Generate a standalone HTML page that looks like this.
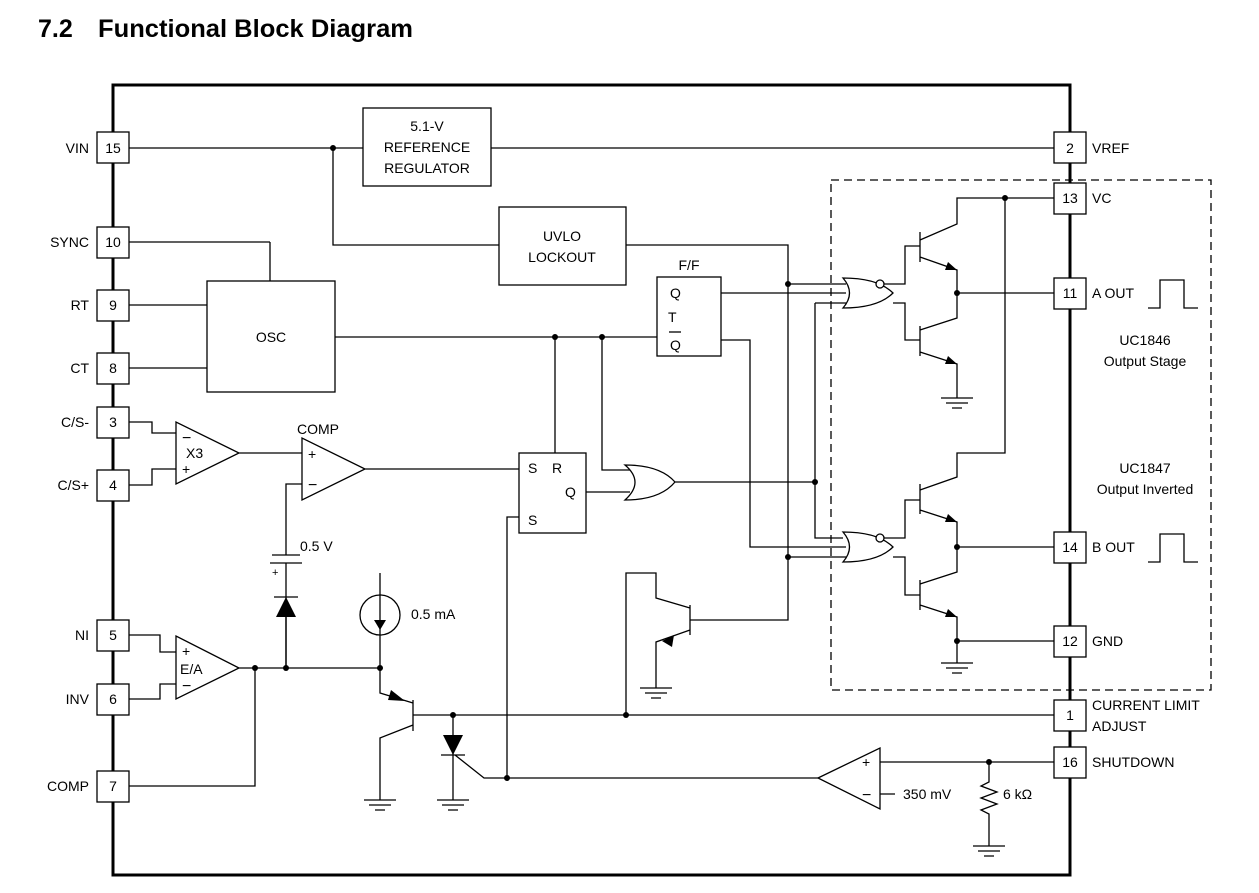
<!DOCTYPE html>
<html><head><meta charset="utf-8"><style>
html,body{margin:0;padding:0;background:#fff;}
svg{display:block;font-family:"Liberation Sans",sans-serif;}
</style></head><body>
<svg width="1259" height="893" viewBox="0 0 1259 893" xmlns="http://www.w3.org/2000/svg">
<text x="38" y="37" font-size="25" font-weight="bold" fill="#000">7.2</text>
<text x="98" y="37" font-size="25" font-weight="bold" fill="#000" textLength="315" lengthAdjust="spacingAndGlyphs">Functional Block Diagram</text>
<g fill="none" stroke="#000" stroke-width="1.3">
<rect x="113" y="85" width="957" height="790" stroke-width="3"/>
<rect x="831" y="180" width="380" height="510" stroke-dasharray="8,5"/>
<rect x="363" y="108" width="128" height="78" fill="#fff"/>
<rect x="499" y="207" width="127" height="78"/>
<rect x="207" y="281" width="128" height="111"/>
<rect x="657" y="277" width="64" height="79"/>
<rect x="519" y="453" width="67" height="80"/>
<path d="M129 148H363M491 148H1054M333 148V245H499M626 245H788V620H690M270 242H129M270 242V281M129 305H207M129 368H207"/>
<path d="M335 337H657M555 337V453M602 337V470H630"/>
<path d="M129 422H152V433H176M129 485H152V469H176M176 422V484L239 453Z M239 453H302M302 438V500L365 469Z M365 469H519M302 484H286V555M272 555H300M270 563H302M286 563V668"/>
<path d="M274 597H298 M286 617V668"/>
<path d="M129 635H160V652H176M129 699H160V684H176M176 636V699L239 668Z M239 668H380M255 668V786H129"/>
<circle cx="380" cy="615" r="20"/>
<path d="M380 573V668V693L413 703M413 700V731M413 725L380 738V800M413 715H1054"/>
<path d="M453 715V755M441 755H465M455 755L484 778H818M453 755V800M507 778V517H519M586 492H630"/>
<path d="M818 778L880 748V809Z M880 762H1054M880 794H895M989 762V782L981 786L997 792L981 798L997 804L981 810L989 814V846"/>
<path d="M625 465Q645 482 625 500Q660 500 675 482Q660 465 625 465Z M675 482H815M815 303V538H843"/>
<path d="M626 715V573H656V598L690 608M690 605V635M690 630L656 642V688"/>
<path d="M721 293H846M721 340H750V547H846M788 284H846M788 557H846M815 303H846"/>
<path d="M843 278Q856 293 843 308Q878 308 893 293Q878 278 843 278Z"/>
<circle cx="880" cy="284" r="4" fill="#fff"/>
<path d="M843 532Q856 547 843 562Q878 562 893 547Q878 532 843 532Z"/>
<circle cx="880" cy="538" r="4" fill="#fff"/>
<path d="M884 284H905V246H920M920 232V262M920 240L957 224V198H1054M920 257L957 270V293V318L920 330M893 303H905V340H920M920 326V356M920 352L957 364V398M957 293H1054M1005 198V453H957V477L920 490"/>
<path d="M884 538H905V500H920M920 484V514M920 510L957 522V547V572L920 584M893 557H905V595H920M920 580V610M920 605L957 617V663M957 547H1054M957 641H1054"/>
<path d="M941 398H973M946 403H968M952 408H962 M941 663H973M946 668H968M952 673H962 M640 688H672M645 693H667M651 698H661 M364 800H396M369 805H391M375 810H385 M437 800H469M442 805H464M448 810H458 M973 846H1005M978 851H1000M984 856H994"/>
<path d="M1148 308H1160V280H1184V308H1198M1148 562H1160V534H1184V562H1198"/>
<g fill="#fff">
<rect x="97" y="132" width="32" height="31"/><rect x="97" y="227" width="32" height="31"/><rect x="97" y="290" width="32" height="31"/><rect x="97" y="353" width="32" height="31"/><rect x="97" y="407" width="32" height="31"/><rect x="97" y="470" width="32" height="31"/><rect x="97" y="620" width="32" height="31"/><rect x="97" y="684" width="32" height="31"/><rect x="97" y="771" width="32" height="31"/>
<rect x="1054" y="132" width="32" height="31"/><rect x="1054" y="183" width="32" height="31"/><rect x="1054" y="278" width="32" height="31"/><rect x="1054" y="532" width="32" height="31"/><rect x="1054" y="626" width="32" height="31"/><rect x="1054" y="700" width="32" height="31"/><rect x="1054" y="747" width="32" height="31"/>
</g>
</g>
<g fill="#000">
<path d="M276 617H296L286 597Z"/>
<path d="M443 735H463L453 755Z"/>
<path d="M374 620H386L380 630Z"/>
<path d="M405 701L391 690L388 700Z"/>
<path d="M662 641L674 635L672 647Z"/>
<path d="M948 262L957 270L945 270Z"/>
<path d="M948 356L957 364L945 364Z"/>
<path d="M948 514L957 522L945 522Z"/>
<path d="M948 609L957 617L945 617Z"/>
<circle cx="333" cy="148" r="3"/><circle cx="788" cy="284" r="3"/><circle cx="788" cy="557" r="3"/><circle cx="555" cy="337" r="3"/><circle cx="602" cy="337" r="3"/><circle cx="815" cy="482" r="3"/><circle cx="255" cy="668" r="3"/><circle cx="286" cy="668" r="3"/><circle cx="380" cy="668" r="3"/><circle cx="453" cy="715" r="3"/><circle cx="626" cy="715" r="3"/><circle cx="507" cy="778" r="3"/><circle cx="989" cy="762" r="3"/><circle cx="1005" cy="198" r="3"/><circle cx="957" cy="293" r="3"/><circle cx="957" cy="547" r="3"/><circle cx="957" cy="641" r="3"/>
</g>
<g font-size="14" fill="#000">
<g text-anchor="middle">
<text x="113" y="153">15</text><text x="113" y="247">10</text><text x="113" y="310">9</text><text x="113" y="373">8</text><text x="113" y="427">3</text><text x="113" y="490">4</text><text x="113" y="640">5</text><text x="113" y="704">6</text><text x="113" y="791">7</text>
<text x="1070" y="153">2</text><text x="1070" y="203">13</text><text x="1070" y="298">11</text><text x="1070" y="552">14</text><text x="1070" y="646">12</text><text x="1070" y="720">1</text><text x="1070" y="767">16</text>
<text x="427" y="131">5.1-V</text><text x="427" y="152">REFERENCE</text><text x="427" y="173">REGULATOR</text>
<text x="562" y="241">UVLO</text><text x="562" y="262">LOCKOUT</text>
<text x="271" y="342">OSC</text><text x="689" y="270">F/F</text>
<text x="1145" y="345">UC1846</text><text x="1145" y="366">Output Stage</text>
<text x="1145" y="473">UC1847</text><text x="1145" y="494">Output Inverted</text>
<text x="318" y="434">COMP</text>
</g>
<g text-anchor="end">
<text x="89" y="153">VIN</text><text x="89" y="247">SYNC</text><text x="89" y="310">RT</text><text x="89" y="373">CT</text><text x="89" y="427">C/S-</text><text x="89" y="490">C/S+</text><text x="89" y="640">NI</text><text x="89" y="704">INV</text><text x="89" y="791">COMP</text>
</g>
<text x="1092" y="153">VREF</text><text x="1092" y="203">VC</text><text x="1092" y="298">A OUT</text><text x="1092" y="552">B OUT</text><text x="1092" y="646">GND</text><text x="1092" y="710">CURRENT LIMIT</text><text x="1092" y="731">ADJUST</text><text x="1092" y="767">SHUTDOWN</text>
<text x="670" y="298">Q</text><text x="668" y="322">T</text><text x="670" y="350">Q</text>
<text x="528" y="473">S</text><text x="552" y="473">R</text><text x="565" y="497">Q</text><text x="528" y="525">S</text>
<text x="186" y="458">X3</text><text x="182" y="443" font-size="16">−</text><text x="182" y="474">+</text>
<text x="308" y="459">+</text><text x="308" y="490" font-size="16">−</text>
<text x="182" y="656">+</text><text x="180" y="674">E/A</text><text x="182" y="691" font-size="16">−</text>
<text x="300" y="551">0.5 V</text><text x="272" y="576" font-size="11">+</text>
<text x="411" y="619">0.5 mA</text>
<text x="862" y="767">+</text><text x="862" y="800" font-size="16">−</text>
<text x="903" y="799">350 mV</text><text x="1003" y="799">6 kΩ</text>
</g>
<path d="M669 332H681" stroke="#000" stroke-width="1.3"/>
</svg>
</body></html>
